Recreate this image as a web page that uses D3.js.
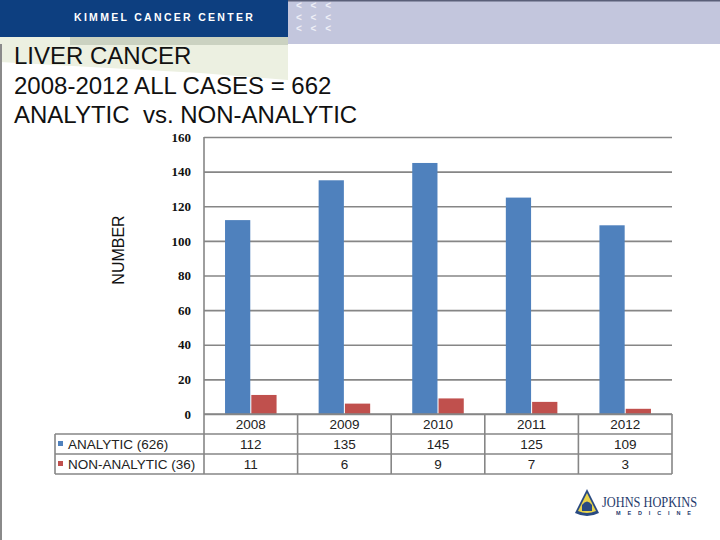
<!DOCTYPE html>
<html>
<head>
<meta charset="utf-8">
<script src="https://cdn.jsdelivr.net/npm/d3@7"></script>
<style>
	body { margin: 0; background: #fff; }
	svg { display: block; font-family: 'Liberation Sans', Arial, sans-serif; }
	.ytick text { font-family: 'Liberation Serif', 'Times New Roman', 'DejaVu Serif', serif !important; font-weight: bold; font-size: 13px; }
</style>
</head>
<body>
<div id="chart"></div>
<script>
// Chart values
const years = [ '2008', '2009', '2010', '2011', '2012' ];
const analytic = [ 112, 135, 145, 125, 109 ];
const nonAnalytic = [ 11, 6, 9, 7, 3 ];
const seriesNames = [ 'ANALYTIC (626)', 'NON-ANALYTIC (36)' ];
const seriesColors = [ '#4f81bd', '#c0504d' ];
const yTicks = [ 0, 20, 40, 60, 80, 100, 120, 140, 160 ];
const titleLines = [ 'LIVER CANCER', '2008-2012 ALL CASES = 662', 'ANALYTIC  vs. NON-ANALYTIC' ];

const W = 720, H = 540;
const plot = { left: 204, right: 672, top: 137, bottom: 414 };
const rowH = 20, legendLeft = 55;
const gridColor = '#868686';
const serif = '\'Liberation Serif\', \'Times New Roman\', \'DejaVu Serif\', serif';

const svg = d3.select( '#chart' )
	.append( 'svg' )
	.attr( 'width', W )
	.attr( 'height', H );

// Slide header
svg.append( 'rect' ).attr( 'x', 288 ).attr( 'y', 0 ).attr( 'width', W - 288 ).attr( 'height', 44 ).attr( 'fill', '#c3c6dd' );
svg.append( 'rect' ).attr( 'x', 288 ).attr( 'y', 0 ).attr( 'width', W - 288 ).attr( 'height', 1.5 ).attr( 'fill', '#5a5f78' );
svg.append( 'polygon' )
	.attr( 'points', '0,37 288,37 288,80 200,73 0,62' )
	.attr( 'fill', '#ecf0e1' );
svg.append( 'rect' ).attr( 'x', 70 ).attr( 'y', 37 ).attr( 'width', 218 ).attr( 'height', 8 ).attr( 'fill', '#cbd2c1' );
svg.append( 'rect' ).attr( 'x', 0 ).attr( 'y', 0 ).attr( 'width', 288 ).attr( 'height', 37 ).attr( 'fill', '#0d3f80' );
svg.append( 'text' )
	.attr( 'x', 74 ).attr( 'y', 21 )
	.attr( 'fill', '#fff' )
	.attr( 'font-size', 10.5 )
	.attr( 'font-weight', 'bold' )
	.attr( 'letter-spacing', 2.3 )
	.text( 'KIMMEL CANCER CENTER' );
[ 9, 21, 32 ].forEach( ( yy ) => {
	svg.append( 'text' )
		.attr( 'x', 296 ).attr( 'y', yy )
		.attr( 'fill', '#eeeff7' )
		.attr( 'font-size', 10 )
		.attr( 'font-weight', 'bold' )
		.attr( 'letter-spacing', 3 )
		.text( '< < <' );
} );

// left border of the slide
svg.append( 'line' )
	.attr( 'x1', 1 ).attr( 'x2', 1 ).attr( 'y1', 44 ).attr( 'y2', H )
	.attr( 'stroke', '#8a8a8a' ).attr( 'stroke-width', 2 );

// Title
svg.append( 'g' )
	.selectAll( 'text' )
	.data( titleLines )
	.join( 'text' )
	.attr( 'x', 14 )
	.attr( 'y', ( d, i ) => 64 + i * 29.5 )
	.attr( 'font-size', 24 )
	.attr( 'fill', '#111' )
	.style( 'white-space', 'pre' )
	.text( ( d ) => d );

// Scales
const x0 = d3.scaleBand().domain( years ).range( [ plot.left, plot.right ] );
const x1 = d3.scaleBand().domain( [ 0, 1 ] ).range( [ 0, x0.bandwidth() ] ).paddingInner( 0.04 ).paddingOuter( 0.8 );
const y = d3.scaleLinear().domain( [ 0, 160 ] ).range( [ plot.bottom, plot.top ] );

// Gridlines + tick labels
const yAxis = svg.append( 'g' )
	.attr( 'class', 'ytick' )
	.attr( 'transform', `translate(${ plot.left },0)` )
	.call( d3.axisLeft( y ).tickValues( yTicks ).tickSize( -( plot.right - plot.left ) ).tickPadding( 13 ) );
yAxis
	.attr( 'font-family', serif )
	.attr( 'font-size', 13 )
	.attr( 'font-weight', 'bold' );
yAxis.select( '.domain' ).remove();
yAxis.selectAll( '.tick line' ).attr( 'stroke', gridColor ).attr( 'stroke-width', 1.6 );
yAxis.selectAll( '.tick text' ).attr( 'fill', '#111' );

svg.append( 'text' )
	.attr( 'transform', 'translate(118,250) rotate(-90)' )
	.attr( 'text-anchor', 'middle' )
	.attr( 'dy', '0.35em' )
	.attr( 'font-size', 16 )
	.attr( 'fill', '#111' )
	.text( 'NUMBER' );

// Bars
const rows = years.map( ( yr, i ) => ( { year: yr, values: [ analytic[ i ], nonAnalytic[ i ] ] } ) );
svg.append( 'g' )
	.selectAll( 'g' )
	.data( rows )
	.join( 'g' )
	.attr( 'transform', ( d ) => `translate(${ x0( d.year ) },0)` )
	.selectAll( 'rect' )
	.data( ( d ) => d.values.map( ( v, s ) => ( { s, v } ) ) )
	.join( 'rect' )
	.attr( 'x', ( d ) => x1( d.s ) )
	.attr( 'width', x1.bandwidth() )
	.attr( 'y', ( d ) => y( d.v ) )
	.attr( 'height', ( d ) => y( 0 ) - y( d.v ) )
	.attr( 'fill', ( d ) => seriesColors[ d.s ] );

// Data table
const table = svg.append( 'g' ).attr( 'stroke', gridColor ).attr( 'stroke-width', 1.6 );
const tBottom = plot.bottom + rowH * 3;
table.append( 'line' ).attr( 'x1', plot.left ).attr( 'x2', plot.left ).attr( 'y1', plot.top ).attr( 'y2', tBottom );
table.append( 'line' ).attr( 'x1', plot.left ).attr( 'x2', plot.right ).attr( 'y1', plot.bottom ).attr( 'y2', plot.bottom );
[ 1, 2, 3 ].forEach( ( r ) => {
	table.append( 'line' )
		.attr( 'x1', legendLeft ).attr( 'x2', plot.right )
		.attr( 'y1', plot.bottom + rowH * r ).attr( 'y2', plot.bottom + rowH * r );
} );
table.append( 'line' ).attr( 'x1', legendLeft ).attr( 'x2', legendLeft ).attr( 'y1', plot.bottom + rowH ).attr( 'y2', tBottom );
years.forEach( ( yr ) => {
	const xr = x0( yr ) + x0.bandwidth();
	table.append( 'line' ).attr( 'x1', xr ).attr( 'x2', xr ).attr( 'y1', plot.bottom ).attr( 'y2', tBottom );
} );

const cellText = svg.append( 'g' )
	.attr( 'font-size', 13.5 )
	.attr( 'fill', '#222' )
	.attr( 'text-anchor', 'middle' );
cellText.selectAll( 'text.yr' )
	.data( years )
	.join( 'text' )
	.attr( 'class', 'yr' )
	.attr( 'x', ( d ) => x0( d ) + x0.bandwidth() / 2 )
	.attr( 'y', plot.bottom + rowH / 2 )
	.attr( 'dy', '0.36em' )
	.text( ( d ) => d );
[ analytic, nonAnalytic ].forEach( ( series, s ) => {
	cellText.append( 'g' )
		.selectAll( 'text' )
		.data( series )
		.join( 'text' )
		.attr( 'x', ( d, i ) => x0( years[ i ] ) + x0.bandwidth() / 2 )
		.attr( 'y', plot.bottom + rowH * ( s + 1.5 ) )
		.attr( 'dy', '0.36em' )
		.text( ( d ) => d );
} );

// Legend keys inside the table
const legend = svg.append( 'g' )
	.selectAll( 'g' )
	.data( seriesNames )
	.join( 'g' )
	.attr( 'transform', ( d, i ) => `translate(${ legendLeft },${ plot.bottom + rowH * ( i + 1.5 ) })` );
legend.append( 'rect' )
	.attr( 'x', 3 ).attr( 'y', -3 )
	.attr( 'width', 5 ).attr( 'height', 5 )
	.attr( 'fill', ( d, i ) => seriesColors[ i ] );
legend.append( 'text' )
	.attr( 'x', 13 )
	.attr( 'dy', '0.36em' )
	.attr( 'font-size', 13.5 )
	.attr( 'fill', '#222' )
	.text( ( d ) => d );

// Johns Hopkins Medicine logo
const logo = svg.append( 'g' ).attr( 'transform', 'translate(576,489)' );
logo.append( 'path' ).attr( 'd', 'M11,0 L23,24 Q11,30 -1,24 Z' ).attr( 'fill', '#294a82' );
logo.append( 'path' ).attr( 'd', 'M11,4 L20,22 Q11,26 2,22 Z' ).attr( 'fill', '#e8d34a' );
logo.append( 'path' ).attr( 'd', 'M6,22 L6,16 Q11,9 16,16 L16,22 Z' ).attr( 'fill', '#294a82' );
logo.append( 'text' )
	.attr( 'x', 26 ).attr( 'y', 18 )
	.attr( 'font-family', serif )
	.attr( 'font-size', 15 )
	.attr( 'fill', '#1f3a6c' )
	.attr( 'textLength', 95 )
	.attr( 'lengthAdjust', 'spacingAndGlyphs' )
	.text( 'JOHNS HOPKINS' );
logo.append( 'text' )
	.attr( 'x', 40 ).attr( 'y', 26 )
	.attr( 'font-size', 5.5 )
	.attr( 'font-weight', 'bold' )
	.attr( 'fill', '#1f3a6c' )
	.attr( 'textLength', 75 )
	.text( 'MEDICINE' );
</script>
</body>
</html>
